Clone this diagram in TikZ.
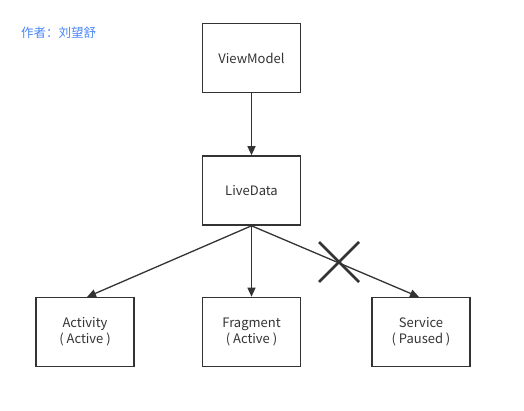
\documentclass[tikz,border=0pt]{standalone}
\usepackage{fontspec}
\setmainfont{Noto Sans CJK SC}
\usetikzlibrary{arrows.meta,calc}
\definecolor{ink}{HTML}{333333}
\definecolor{author}{HTML}{4A86F7}
\begin{document}
\begin{tikzpicture}[x=1pt,y=-1pt,
  box/.style={draw=ink,line width=1.6pt,minimum width=98pt,minimum height=69pt,inner sep=0pt,align=center,font=\fontsize{13}{16}\selectfont,text=ink},
  conn/.style={draw=ink,line width=1.3pt,-{Triangle[length=9pt,width=8pt]}},
  crossline/.style={draw=ink,line width=2.6pt}]
\useasboundingbox (0,0) rectangle (524,411);
\node[font=\fontsize{12.5}{14}\selectfont,text=author,anchor=west,inner sep=0pt] (auth) at (21,33) {作者：刘望舒};
\node[box] (vm) at (251.5,58) {ViewModel};
\node[box] (ld) at (251.5,190.5) {LiveData};
\node[box] (act) at (85,332) {Activity\\( Active )};
\node[box] (frag) at (251.5,332) {Fragment\\( Active )};
\node[box] (serv) at (421,332) {Service\\( Paused )};
\draw[conn] (vm.south) -- (ld.north);
\draw[conn] (ld.south) -- (87,297) coordinate (actend);
\draw[conn] (ld.south) -- (frag.north);
\draw[conn] (ld.south) -- (419,297) coordinate (servend);
\coordinate (xc) at (339,262);
\draw[crossline] ($(xc)+(-20,-20)$) -- ($(xc)+(20,20)$);
\draw[crossline] ($(xc)+(20,-20)$) -- ($(xc)+(-20,20)$);
\end{tikzpicture}
\end{document}
